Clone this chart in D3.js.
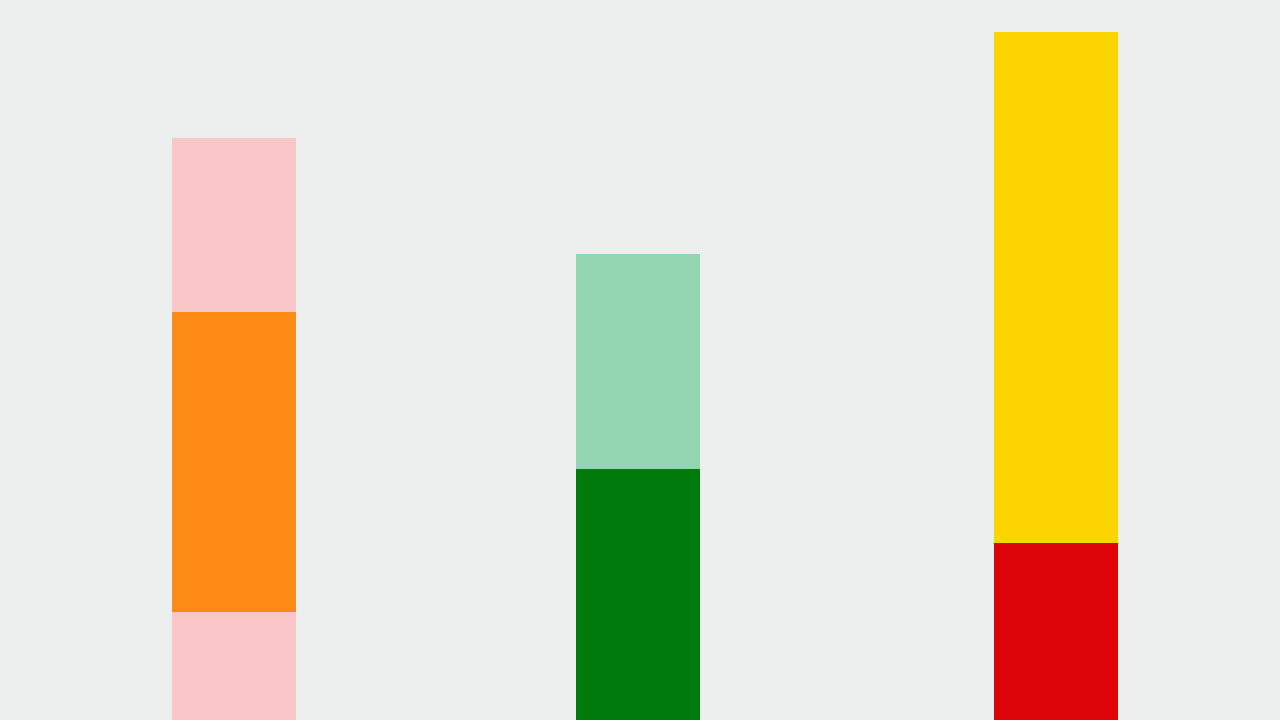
<!DOCTYPE html>
<html>
<head>
<meta charset="utf-8">
<script src="https://cdn.jsdelivr.net/npm/d3@7"></script>
<style>
  html, body { margin: 0; padding: 0; background: #edeeee; overflow: hidden; }
</style>
</head>
<body>
<div id="chart"></div>
<script>
// datos
const categories = ["A", "B", "C"]
const bottomValues = [108, 251, 177]
const middleValues = [300, 215, 511]
const topValues = [174, 0, 0]
const bottomColors = ["#f9c6c8", "#007a0a", "#dc0409"]
const middleColors = ["#fc8a14", "#93d5b0", "#fcd400"]
const topColors = ["#f9c6c8", "#93d5b0", "#fcd400"]

const width = 1280
const height = 720

const svg = d3.select("div#chart").append("svg").attr("width", width).attr("height", height)
svg.append("rect").attr("width", width).attr("height", height).attr("fill", "#edeeee")

// posiciones de las barras (no equiespaciadas en la imagen)
const x = d3.scaleOrdinal().domain(categories).range([172, 576, 994])
const barWidth = 124
const y = d3.scaleLinear().domain([0, 720]).range([height, 0])

const table = categories.map((c, i) => ({cat: c, s0: bottomValues[i], s1: middleValues[i], s2: topValues[i]}))
const series = d3.stack().keys(["s0", "s1", "s2"])(table)
const palettes = [bottomColors, middleColors, topColors]

const elementGroup = svg.append("g").attr("class", "elementGroup")

series.forEach((s, k) => {
    elementGroup.selectAll(null)
        .data(s)
        .enter()
        .append("rect")
        .attr("x", d => x(d.data.cat))
        .attr("y", d => y(d[1]))
        .attr("width", barWidth)
        .attr("height", d => y(d[0]) - y(d[1]))
        .attr("fill", (d, i) => palettes[k][i])
})
</script>
</body>
</html>
